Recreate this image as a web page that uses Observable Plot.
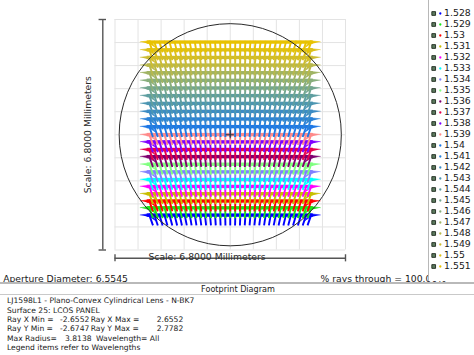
<!DOCTYPE html>
<html><head><meta charset="utf-8">
<script src="https://cdn.jsdelivr.net/npm/d3@7"></script>
<script src="https://cdn.jsdelivr.net/npm/@observablehq/plot@0.6"></script>
<style>
body{margin:0;background:#fff;font-family:"DejaVu Sans",sans-serif;color:#1a1a1a;}
#wrap{position:relative;width:474px;height:355px;overflow:hidden;background:#fff;}
#main{position:absolute;left:0;top:0;}
#main svg{display:block;}
#legend{position:absolute;left:428px;top:0;width:46px;height:281px;background:#fff;border-left:1px solid #b8b8b8;}
#legend svg{display:block;}
.sep1{position:absolute;left:0;top:282px;width:474px;height:0;border-top:2px solid #b9b9b9;}
.sep2{position:absolute;left:0;top:294px;width:474px;height:0;border-top:1px solid #c9c9c9;}
.title{position:absolute;left:0;top:284px;width:476px;text-align:center;font-size:8.1px;line-height:10px;}
.info{position:absolute;font-size:7.6px;line-height:9px;white-space:pre;}
</style></head><body>
<div id="wrap"><div id="main"></div><div id="legend"></div>
<div class="sep1"></div><div class="title">Footprint Diagram</div><div class="sep2"></div>
<div id="info"></div>
</div>
<script>
// ---- data ----
const wavelengths = ["1.528","1.529","1.53","1.531","1.532","1.533","1.534","1.535","1.536","1.537","1.538","1.539","1.54","1.541","1.542","1.543","1.544","1.545","1.546","1.547","1.548","1.549","1.55","1.551"];
const colors = ["#0000ff","#19e619","#ff0000","#c8be00","#ff00ff","#00ffff","#8080ff","#80ff80","#800070","#e6004c","#8000ff","#ff8a8a","#1e78e6","#2a82d8","#3c8cc4","#4c96b2","#5e9ea0","#72a690","#88ae7c","#a0b464","#b8b84c","#ccbc32","#dcc01a","#e8c200"];
// top edge (mm) of each wavelength's ray band on the surface
const bandTop = [-2.335,-2.12,-1.92,-1.705,-1.49,-1.285,-1.06,-0.835,-0.61,-0.40,-0.175,0.04,0.275,0.50,0.725,0.96,1.19,1.415,1.64,1.865,2.09,2.315,2.54,2.77];
// x positions (mm) of the ray columns in each band
const rayColumns = [-2.4,-2.25,-2.1,-1.95,-1.8,-1.65,-1.5,-1.35,-1.2,-1.05,-0.9,-0.75,-0.6,-0.45,-0.3,-0.15,0,0.15,0.3,0.45,0.6,0.75,0.9,1.05,1.2,1.35,1.5,1.65,1.8,1.95,2.1,2.25,2.4];
const gridTicks = [-3.4,-2.72,-2.04,-1.36,-0.68,0,0.68,1.36,2.04,2.72,3.4];
const rayXMax = 2.6552;
const apertureDiameter = 6.5545;
const scaleLabel = "Scale: 6.8000 Millimeters";
const infoLines = [
  [["LJ1598L1 - Plano-Convex Cylindrical Lens - N-BK7",7]],
  [["Surface 25: LCOS PANEL",7]],
  [["Ray X Min =",7],["-2.6552",60],["Ray X Max =",90.7],["2.6552",156.7]],
  [["Ray Y Min =",7],["-2.6747",60],["Ray Y Max =",90.7],["2.7782",156.7]],
  [["Max Radius=",7],["3.8138",65],["Wavelength= All",96]],
  [["Legend items refer to Wavelengths",7]]
];

// ---- main plot ----
const W = 474, H = 282, mL = 114.5, mR = 474 - 345, mT = 19, mB = 282 - 249.5;
const pxPerMm = (W - mL - mR) / 6.8;
const rayDrop = 0.34, raySlant = 0.05, barH = 0.1;

const bandMarks = wavelengths.flatMap((w, i) => {
  const top = bandTop[i], c = colors[i];
  const rays = rayColumns.map(x => ({x1: x, y1: top, x2: x * (1 - raySlant), y2: top - rayDrop}));
  const edge = [
    {k: "L", x: -rayXMax, y: top - 0.03}, {k: "L", x: -2.35, y: top + 0.005}, {k: "L", x: -2.2, y: top - 0.2}, {k: "L", x: -2.35, y: top - 0.1},
    {k: "R", x: rayXMax, y: top - 0.03}, {k: "R", x: 2.35, y: top + 0.005}, {k: "R", x: 2.2, y: top - 0.2}, {k: "R", x: 2.35, y: top - 0.1}
  ];
  return [
    Plot.link(rays, {x1: "x1", y1: "y1", x2: "x2", y2: "y2", stroke: c, strokeWidth: 1.9}),
    Plot.rect([{}], {x1: -2.45, x2: 2.45, y1: top - barH, y2: top, fill: c}),
    Plot.line(edge, {x: "x", y: "y", z: "k", fill: c, stroke: c, strokeWidth: 0.6})
  ];
});

const fs = 9.25;
const main = Plot.plot({
  width: W, height: H,
  marginLeft: mL, marginRight: mR, marginTop: mT, marginBottom: mB,
  x: {domain: [-3.4, 3.4], axis: null},
  y: {domain: [-3.4, 3.4], axis: null},
  style: {fontFamily: "DejaVu Sans", background: "transparent", overflow: "visible"},
  marks: [
    Plot.ruleX(gridTicks, {x: d => d, y1: -3.4, y2: 3.4, stroke: "#e3e3e3", strokeOpacity: 1}),
    Plot.ruleY(gridTicks, {y: d => d, x1: -3.4, x2: 3.4, stroke: "#e3e3e3", strokeOpacity: 1}),
    ...bandMarks,
    Plot.dot([{x: 0, y: 0}], {x: "x", y: "y", r: apertureDiameter / 2 * pxPerMm, stroke: "#2a2a2a", fill: "none", strokeWidth: 1}),
    Plot.ruleX([0], {x: d => d, y1: -0.12, y2: 0.12, stroke: "#333", strokeWidth: 1}),
    Plot.ruleY([0], {y: d => d, x1: -0.12, x2: 0.12, stroke: "#333", strokeWidth: 1}),
    // vertical scale bar
    Plot.ruleX([-3.76], {x: d => d, y1: -3.4, y2: 3.4, stroke: "#555", strokeWidth: 1.4}),
    Plot.ruleY([-3.4, 3.4], {y: d => d, x1: -3.87, x2: -3.65, stroke: "#555", strokeWidth: 1.4}),
    Plot.text([scaleLabel], {x: -4.19, y: 0, text: d => d, rotate: -90, fontSize: fs, fill: "#2a2a2a"}),
    // horizontal scale bar
    Plot.ruleY([-3.643], {y: d => d, x1: -3.4, x2: 3.4, stroke: "#555", strokeWidth: 1.4}),
    Plot.ruleX([-3.4, 3.4], {x: d => d, y1: -3.54, y2: -3.75, stroke: "#555", strokeWidth: 1.4}),
    Plot.text([scaleLabel], {x: -0.686, y: -3.61, text: d => d, fontSize: fs, fill: "#2a2a2a"}),
    Plot.text(["Aperture Diameter: " + apertureDiameter.toFixed(4)], {x: -6.70, y: -4.265, text: d => d, textAnchor: "start", fontSize: fs, fill: "#1a1a1a"}),
    Plot.text(["% rays through = 100.00%"], {x: 2.662, y: -4.265, text: d => d, textAnchor: "start", fontSize: fs, fill: "#1a1a1a"})
  ]
});
document.getElementById("main").appendChild(main);

// ---- legend ----
const legend = Plot.plot({
  width: 46, height: 281, margin: 0,
  x: {domain: [0, 46], range: [0, 46], axis: null},
  y: {type: "point", domain: wavelengths, range: [7.3, 272.5], axis: null},
  color: {type: "identity"},
  style: {fontFamily: "DejaVu Sans", background: "transparent"},
  marks: [
    Plot.dot(wavelengths, {x: 4.2, y: d => d, symbol: "square", r: 2.1, fill: "#5c7a5e", stroke: "#1e2a1e", strokeWidth: 0.9}),
    Plot.dot(wavelengths, {x: 10.8, y: d => d, r: 1.15, fill: (d, i) => colors[i], stroke: null}),
    Plot.text(wavelengths, {x: 14.6, y: d => d, text: d => d, textAnchor: "start", fontSize: 9.3, fill: "#1a1a1a"})
  ]
});
document.getElementById("legend").appendChild(legend);

// ---- info block ----
const info = d3.select("#info");
infoLines.forEach((line, i) => {
  const cy = 300.7 + 9.4 * i;
  line.forEach(([t, x]) => {
    info.append("div").attr("class", "info").style("left", x + "px").style("top", (cy - 4.5) + "px").text(t);
  });
});
</script>
</body></html>
